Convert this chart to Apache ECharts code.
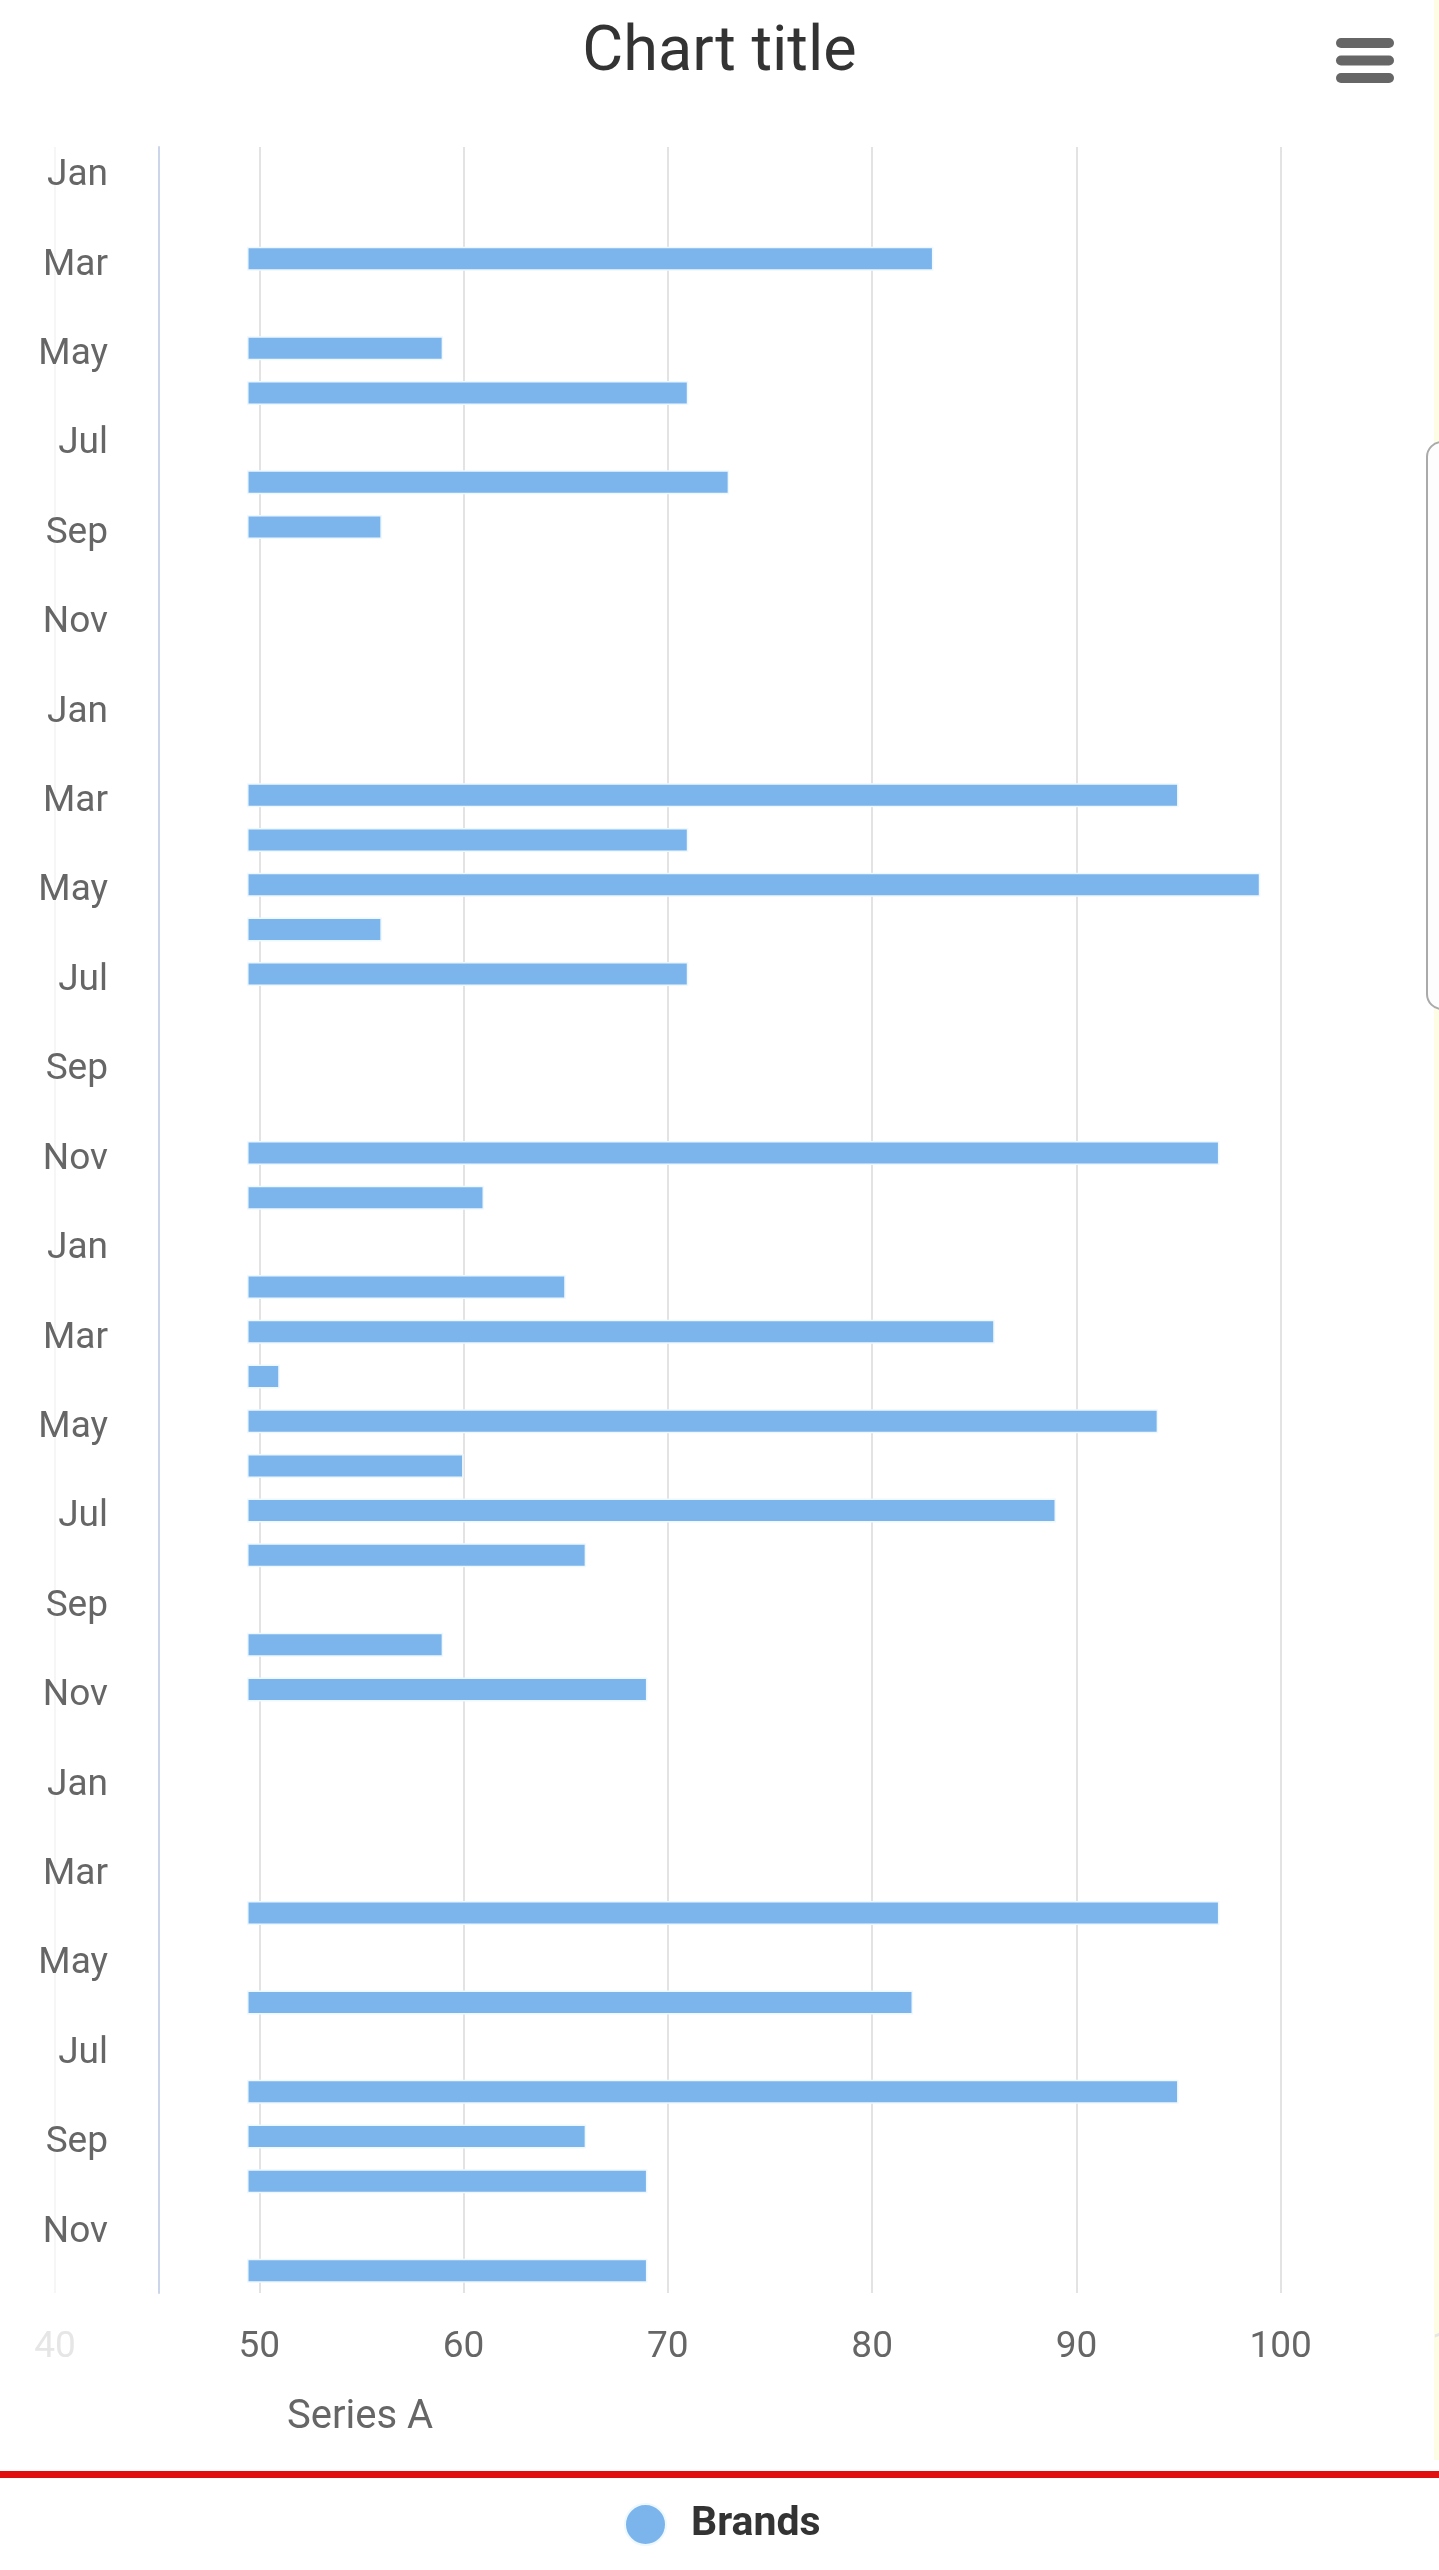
<!DOCTYPE html>
<html>
<head>
<meta charset="utf-8">
<script src="https://cdn.jsdelivr.net/npm/echarts@6/dist/echarts.min.js"></script>
<style>
html,body{margin:0;padding:0;background:#ffffff;}
#chart{width:1439px;height:2570px;}
</style>
</head>
<body>
<div id="chart"></div>
<script>
// ---- data ----
const monthNames = ['Jan','Feb','Mar','Apr','May','Jun','Jul','Aug','Sep','Oct','Nov','Dec'];
const categories = [].concat(monthNames, monthNames, monthNames, monthNames);
const brandsValues = [
  null, null, 83, null, 59, 71, null, 73, 56, null, null, null,
  null, null, 95, 71, 99, 56, 71, null, null, null, 97, 61,
  null, 65, 86, 51, 94, 60, 89, 66, null, 59, 69, null,
  null, null, null, 97, null, 82, null, 95, 66, 69, null, 69
];
const barBase = 49.4;
const xTicks = [40, 50, 60, 70, 80, 90, 100, 110];
const titleText = 'Chart title';
const seriesName = 'Brands';
const xAxisTitle = 'Series A';

const chart = echarts.init(document.getElementById('chart'), null, {renderer: 'canvas'});
const FONT = 'Roboto';
const xMin = xTicks[0], xMax = xTicks[xTicks.length - 1];

const option = {
  backgroundColor: '#ffffff',
  animation: false,
  textStyle: {fontFamily: FONT},
  title: {
    text: titleText,
    left: 'center',
    top: 18,
    textStyle: {fontFamily: FONT, fontSize: 63, fontWeight: 'normal', color: '#333333'}
  },
  legend: {
    data: [seriesName],
    left: 624,
    top: 2503,
    padding: 0,
    icon: 'circle',
    itemWidth: 41,
    itemHeight: 41,
    textStyle: {fontFamily: FONT, fontSize: 41, fontWeight: 'bold', color: '#333333', padding: [0, 0, 0, 20]}
  },
  grid: {left: 55, right: -46, top: 147, bottom: 277, containLabel: false, outerBoundsMode: 'none'},
  xAxis: {
    type: 'value',
    min: xMin,
    max: xMax,
    interval: 10,
    axisLine: {show: false},
    axisTick: {show: false},
    splitLine: {
      show: true,
      lineStyle: {width: 2, color: xTicks.map((t, i) => (i === 0 || i === xTicks.length - 1) ? '#f6f6f6' : '#e3e3e3')}
    },
    axisLabel: {
      fontFamily: FONT,
      fontSize: 37,
      margin: 36,
      color: '#666666',
      formatter: function (v) {
        const n = Number(v);
        if (n === xMin) return '{faint|' + v + '}';
        if (n === xMax) return '{edge|' + v + '}';
        return String(v);
      },
      rich: {
        faint: {fontFamily: FONT, fontSize: 37, color: '#e6e6e6'},
        edge: {fontFamily: FONT, fontSize: 37, color: '#e6e6e6', padding: [0, 44, 0, 0]}
      }
    }
  },
  yAxis: {
    type: 'category',
    data: categories,
    inverse: true,
    offset: -104,
    axisLine: {show: true, lineStyle: {color: '#ccd6eb', width: 2}},
    axisTick: {show: false},
    splitLine: {show: false},
    axisLabel: {
      interval: 1,
      fontFamily: FONT,
      fontSize: 37,
      color: '#666666',
      margin: 51,
      formatter: function (v) { return '{m|' + v + '}'; },
      rich: {m: {fontFamily: FONT, fontSize: 37, color: '#666666', padding: [13, 0, 0, 0]}}
    }
  },
  series: [
    {
      name: 'base',
      type: 'bar',
      stack: 'total',
      silent: true,
      barWidth: 24,
      itemStyle: {color: 'rgba(0,0,0,0)'},
      data: brandsValues.map(v => v == null ? null : barBase)
    },
    {
      name: seriesName,
      type: 'bar',
      stack: 'total',
      barWidth: 24,
      itemStyle: {color: '#7cb5ec', borderColor: '#eef8ff', borderWidth: 1.5},
      data: brandsValues.map(v => v == null ? null : v - barBase)
    }
  ],
  graphic: [
    {type: 'text', left: 287, top: 2398, style: {text: xAxisTitle, fontFamily: FONT, fontSize: 40, fill: '#666666'}},
    {type: 'rect', shape: {x: 0, y: 2471, width: 1439, height: 7}, style: {fill: '#e01010'}},
    {type: 'rect', shape: {x: 1336, y: 38, width: 58, height: 10, r: 5}, style: {fill: '#666666'}},
    {type: 'rect', shape: {x: 1336, y: 55.5, width: 58, height: 10, r: 5}, style: {fill: '#666666'}},
    {type: 'rect', shape: {x: 1336, y: 73, width: 58, height: 10, r: 5}, style: {fill: '#666666'}},
    {type: 'rect', shape: {x: 1434, y: 0, width: 5, height: 2460}, style: {fill: '#fdfde6'}},
    {type: 'rect', shape: {x: 1427, y: 442, width: 30, height: 567, r: 15}, style: {fill: '#fdfdfd', stroke: '#aaaaaa', lineWidth: 2}}
  ]
};
chart.setOption(option);
</script>
</body>
</html>
